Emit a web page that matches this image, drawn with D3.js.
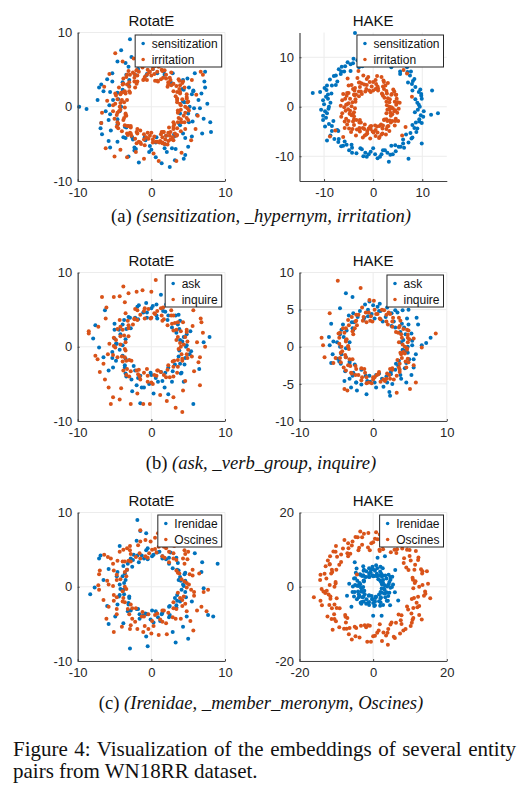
<!DOCTYPE html>
<html>
<head>
<meta charset="utf-8">
<script src="https://cdn.jsdelivr.net/npm/d3@7"></script>
<style>
body { margin: 0; background: #fff; }
</style>
</head>
<body>
<div id="chart"></div>
<script>
// tick values and axis ranges
const ticks10 = [-10, 0, 10];
const ticks5 = [-10, -5, 0, 5, 10];
const ticks20 = [-20, 0, 20];
const dom10 = [-10, 10];
const dom15 = [-15, 15];
const dom20 = [-20, 20];

const titles = ["RotatE", "HAKE"];
const captions = [
  ["(a) ", "(sensitization, _hypernym, irritation)"],
  ["(b) ", "(ask, _verb_group, inquire)"],
  ["(c) ", "(Irenidae, _member_meronym, Oscines)"]
];
const legendNames = [["sensitization", "irritation"], ["ask", "inquire"], ["Irenidae", "Oscines"]];

// (a) RotatE
const aRotatESensitization = [
  [5.2,0],[4.3,0.7],[5.7,2.1],[4.2,2.4],[4.3,3.6],[2.7,3.2],[3.2,5.6],[1.7,4.7],[0.8,4.5],[0,5.9],[-0.7,4.2],[-1.8,5.1],
  [-3.1,5.4],[-3.0,3.6],[-3.9,3.3],[-3.9,2.3],[-5.6,2.0],[-5.2,0.9],[-4.1,0],[-5.6,-1.0],[-4.6,-1.7],[-5.5,-3.2],[-3.4,-2.8],[-3.5,-4.2],
  [-2.5,-4.4],[-2.1,-5.7],[-0.8,-4.5],[0,-5.8],[0.7,-4.1],[1.8,-5.0],[3.3,-5.7],[3.1,-3.7],[4.3,-3.6],[3.7,-2.2],[5.6,-2.0],[5.0,-0.9],
  [4.5,0.6],[5.5,1.7],[4.4,2.3],[4.9,3.8],[2.9,3.1],[2.9,4.5],[1.8,4.3],[1.3,5.9],[0.2,5.1],[-0.6,4.4],[-1.8,5.6],[-2.2,4.3],
  [-3.4,4.3],[-3.0,2.8],[-5.3,3.4],[-4.6,1.9],[-4.5,1.0],[-5.7,0.2],[-4.3,-0.6],[-5.8,-1.8],[-4.6,-2.4],[-3.6,-2.7],[-3.8,-4.1],[-2.6,-4.1],
  [-2.3,-5.5],[-0.9,-4.1],[-0.2,-5.3],[0.6,-4.8],[1.8,-5.6],[2.0,-3.9],[3.1,-4.0],[4.6,-4.2],[3.9,-2.5],[5.1,-2.1],[3.9,-0.9],[5.8,-0.2],
  [-9.8,0.0],[-8.8,-0.3],[-7.1,2.6],[-6.8,3.0],[-6.5,2.1],[-7.3,0.9],[-6.2,-0.6],[-6.8,-2.2],[-6.9,-2.9],[-6.7,-3.7],[-5.8,-4.6],[-4.6,-4.7],
  [-5.6,-5.5],[-4.1,7.6],[-4.6,6.1],[-2.9,9.1],[-2.7,6.7],[-1.9,7.0],[-3.5,5.9],[-5.3,4.5],[-6.0,3.7],[5.9,4.5],[7.2,3.4],[7.3,2.6],
  [6.8,1.8],[6.4,0.9],[6.6,-0.2],[6.2,-1.1],[7.1,-1.6],[8.0,-2.1],[8.1,-3.4],[6.9,-3.6],[5.5,-4.0],[5.0,-5.4],[4.6,-6.5],[3.2,-7.2],
  [2.5,-8.1],[1.4,-7.6],[2.1,-6.1],[2.8,-5.6],[-1.7,-7.5],[-0.3,-6.1],[-3.1,-6.7],[5.7,2.2],[7.3,4.7],[5.1,2.6],[4.4,-7.0],[0.6,-6.8],
  [-2.3,-5.9],[7.6,0.4]
];
const aRotatEIrritation = [
  [4.6,0.0],[3.5,0.6],[4.8,1.7],[3.5,2.0],[3.4,2.8],[2.2,2.7],[2.7,4.6],[1.3,3.7],[0.8,4.7],[0.0,4.2],[-0.6,3.6],[-1.7,4.7],
  [-2.3,3.9],[-2.2,2.6],[-3.8,3.1],[-3.6,2.1],[-4.9,1.8],[-3.7,0.6],[-4.3,0.0],[-4.6,-0.8],[-3.4,-1.2],[-4.7,-2.7],[-3.1,-2.6],[-2.9,-3.5],
  [-2.0,-3.4],[-1.7,-4.7],[-0.7,-4.1],[0.0,-3.5],[0.8,-4.7],[1.5,-4.1],[2.6,-4.4],[2.4,-2.8],[3.5,-2.9],[3.6,-2.1],[5.0,-1.8],[3.7,-0.6],
  [3.9,0.4],[4.8,1.3],[3.9,1.8],[3.0,2.1],[3.7,3.7],[2.3,3.3],[2.0,4.3],[0.9,3.4],[0.4,4.4],[-0.5,5.0],[-1.0,3.7],[-1.9,4.2],
  [-2.3,3.4],[-3.8,3.8],[-3.0,2.1],[-4.1,1.9],[-3.3,0.9],[-4.9,0.4],[-4.2,-0.4],[-3.5,-0.9],[-4.6,-2.1],[-3.6,-2.5],[-2.8,-2.8],[-2.7,-3.9],
  [-1.5,-3.2],[-1.4,-5.0],[-0.4,-4.3],[0.4,-4.0],[1.2,-4.6],[1.6,-3.4],[2.9,-4.1],[3.0,-3.0],[3.0,-2.1],[4.5,-2.1],[4.4,-1.2],[4.0,-0.4],
  [4.2,1.0],[4.5,2.6],[3.0,3.1],[1.8,4.9],[-0.3,4.6],[-1.2,5.3],[-2.9,4.3],[-3.3,3.0],[-4.4,2.6],[-4.6,1.0],[-5.2,-0.6],[-3.8,-1.8],
  [-4.0,-3.3],[-2.2,-4.3],[-0.9,-5.2],[0.2,-4.8],[1.8,-5.0],[2.0,-3.9],[3.2,-3.6],[4.0,-3.3],[4.6,-0.8],[3.5,0.9],[4.9,0.6],[3.9,2.9],
  [2.6,3.6],[1.0,5.4],[-1.9,3.4],[-3.8,2.0],[-5.0,-1.6],[-3.2,-3.8],[-1.0,-3.7],[1.3,-3.7],[2.3,-4.6],[3.7,-1.5],[5.1,-0.5],[4.3,3.4],
  [2.5,-3.9],[1.9,-4.4],[3.0,-4.5],[2.2,-5.1],[3.4,-3.9],[1.5,-4.9],[-2.5,4.6],[-3.4,4.0],[-2.0,4.9],[-3.1,4.8],[0.5,5.5],[-0.8,5.6],
  [1.4,5.0],
  [4.0,0.2],[4.8,1.1],[3.3,1.4],[3.8,2.4],[3.8,3.5],[2.3,3.0],[2.0,3.8],[1.5,4.8],[0.5,3.5],[-0.2,4.7],[-0.9,4.0],[-2.0,4.9],
  [-2.0,3.1],[-3.0,3.3],[-3.9,3.0],[-3.5,1.8],[-4.8,1.5],[-4.2,0.5],[-3.6,-0.1],[-4.7,-1.1],[-3.7,-1.5],[-4.5,-2.9],[-2.8,-2.6],[-2.8,-3.6],
  [-1.9,-3.6],[-1.5,-4.8],[-0.5,-3.5],[0.2,-4.4],[1.1,-4.8],[1.4,-3.4],[2.3,-3.5],[3.5,-3.8],[3.1,-2.4],[4.1,-2.1],[4.8,-1.5],[3.6,-0.5],
  [5.0,0.7],[3.5,1.1],[3.9,2.0],[4.2,3.2],[2.7,2.9],[2.5,3.9],[1.6,3.9],[0.8,3.5],[0.2,5.1],[-0.6,4.3],[-1.1,3.6],[-2.3,4.4],
  [-3.3,4.3],[-3.0,2.7],[-2.9,1.9],[-4.2,1.7],[-4.0,0.9],[-5.2,0.2],[-4.4,-0.6],[-3.5,-1.1],[-4.5,-2.3],[-3.3,-2.6],[-3.3,-3.6],[-1.9,-3.0],
  [-2.0,-4.9],[-1.0,-4.4],[-0.2,-3.9],[0.6,-4.7],[1.5,-4.8],[1.7,-3.4],[2.6,-3.4],[3.0,-2.7],[4.6,-3.0],[4.0,-1.7],[3.6,-0.8],[4.9,-0.2],
  [-4.9,7.2],[-6.2,-5.6],[-5.0,-6.7],[-4.2,-5.8],[-3.3,-6.8],[-2.1,-6.1],[-1.0,-7.0],[0.3,-6.3],[1.0,-7.3],[3.4,-7.3],[4.1,-6.2],[5.4,-4.5],
  [6.0,-3.0],[6.3,-1.2],[6.1,1.6],[6.7,4.7],[7.0,4.3],[5.5,3.6],[-6.8,-2.2],[-6.0,0.8],[-6.4,2.7],[-5.7,4.4],[-3.9,6.1],[-2.4,6.5],
  [2.8,6.2],[4.6,5.6],[-6.7,-0.8]
];

// (a) HAKE
const aHakeSensitization = [
  [9.5,0],[8.6,1.5],[9.6,3.5],[7.9,4.6],[7.5,6.3],[5.5,6.6],[5.3,9.1],[3.2,8.7],[1.5,8.7],[0,10.0],[-1.6,9.4],[-2.9,8.0],
  [-5.2,9.0],[-5.9,7.1],[-7.6,6.3],[-7.6,4.4],[-9.5,3.4],[-9.2,1.6],[-9.0,0],[-10.2,-1.8],[-8.1,-2.9],[-8.4,-4.9],[-7.9,-6.5],[-5.8,-7.0],
  [-4.4,-7.7],[-3.4,-9.4],[-1.6,-9.3],[0,-8.4],[1.7,-9.6],[3.5,-9.7],[4.5,-7.8],[6.1,-7.4],[6.7,-5.6],[8.8,-5.1],[8.7,-3.2],[9.7,-1.7],
  [9.0,0.8],[9.8,2.6],[8.6,4.0],[7.1,4.9],[7.0,7.0],[5.9,8.5],[3.7,8.0],[2.5,9.3],[0.9,10.2],[-0.8,9.1],[-2.2,8.2],[-4.1,8.8],
  [-5.7,8.2],[-6.6,6.6],[-7.3,5.1],[-9.4,4.3],[-9.2,2.5],[-8.7,0.8],[-9.8,-0.9],[-10.2,-2.7],[-8.4,-3.9],[-7.1,-4.9],[-7.1,-7.1],[-5.4,-7.7],
  [-4.3,-9.3],[-2.3,-8.6],[-0.9,-9.6],[0.9,-10.4],[2.4,-8.8],[3.7,-7.9],[5.6,-8.1],[7.2,-7.2],[7.6,-5.3],[8.0,-3.7],[9.4,-2.5],[10.3,-0.9],
  [9.3,0.4],[9.8,2.2],[8.0,3.3],[8.1,5.2],[7.7,7.1],[5.5,7.1],[4.4,8.5],[3.1,9.7],[1.1,8.7],[-0.4,9.9],[-2.0,9.0],[-4.0,9.7],
  [-4.6,7.2],[-6.5,7.1],[-8.0,6.2],[-8.4,4.3],[-8.5,2.7],[-10.2,1.3],[-9.1,-0.4],[-9.6,-2.2],[-9.8,-4.0],[-7.3,-4.7],[-7.0,-6.5],[-6.1,-7.9],
  [-4.3,-8.3],[-2.6,-8.4],[-1.3,-10.1],[0.4,-9.6],[2.0,-8.8],[4.0,-9.6],[5.2,-8.1],[6.1,-6.6],[8.0,-6.2],[8.4,-4.3],[9.4,-3.0],[8.5,-1.1],
  [-9.6,2.0],[-10.0,0.5],[-9.4,-1.3],[-9.0,-3.5],[-8.8,5.5],[-7.0,7.6],[-4.6,8.6],[-3.2,9.4],[-6.4,8.1],[-10.6,-0.6],[-8.7,-5.8],[-6.5,-8.0],
  [-4.9,-8.8],[-2.0,-10.0],[-0.5,-9.1],[1.4,-10.1],[2.9,-9.3],[4.6,-9.0],[6.3,-8.3],[7.8,-6.4],[9.0,-4.4],[9.9,-3.3],[10.2,-2.0],[9.1,-0.6],
  [9.9,1.6],[9.3,3.0],[8.4,5.6],[6.9,8.0],[2.0,10.0],[-10.8,3.0],[-9.9,3.8],
  [-3.7,14.9],[-12.3,2.8],[12.0,3.3],[13.2,-1.3],[11.8,-1.6],[7.2,-10.5],[3.2,-11.1],[9.9,-7.4],[-9.4,-6.8]
];
const aHakeIrritation = [
  [4.0,-0.3],[2.8,0.3],[4.8,1.6],[3.0,1.7],[4.1,3.5],[1.9,2.5],[2.0,4.1],[1.0,3.7],[0.5,5.4],[-0.5,3.0],[-1.3,4.4],[-2.3,4.7],
  [-2.5,3.1],[-4.4,4.4],[-3.9,2.5],[-3.6,1.5],[-5.7,1.6],[-5.3,0.5],[-3.7,-0.3],[-6.3,-1.3],[-4.4,-1.7],[-5.0,-2.9],[-3.4,-2.7],[-4.5,-5.1],
  [-2.8,-4.3],[-1.7,-3.6],[-1.4,-5.6],[-0.5,-4.5],[0.5,-5.9],[0.8,-4.0],[1.9,-4.4],[3.3,-4.9],[2.3,-2.6],[3.9,-2.9],[3.6,-1.8],[4.9,-1.2],
  [3.3,0.0],[4.4,1.0],[3.4,1.5],[4.3,3.1],[2.0,2.2],[2.2,3.6],[2.1,5.3],[0.5,3.6],[0.0,5.0],[-0.8,3.3],[-1.8,4.5],[-2.9,4.9],
  [-2.9,3.1],[-2.9,2.1],[-5.0,2.8],[-4.7,1.6],[-6.3,1.3],[-4.4,0.1],[-5.6,-0.8],[-4.8,-1.4],[-3.9,-1.9],[-5.3,-3.6],[-3.9,-3.7],[-2.5,-3.2],
  [-2.7,-5.0],[-2.1,-6.2],[-0.9,-4.4],[-0.1,-5.0],[0.4,-3.8],[1.9,-5.4],[2.0,-3.8],[3.1,-3.9],[2.7,-2.5],[5.1,-2.9],[3.9,-1.5],[2.9,-0.6],
  [4.7,0.4],[3.3,0.9],[4.7,2.4],[2.3,1.8],[2.7,3.2],[2.5,4.3],[1.0,3.3],[0.6,4.6],[-0.3,4.1],[-1.3,5.6],[-1.6,3.1],[-2.7,4.0],
  [-3.7,3.8],[-3.5,2.5],[-5.3,2.8],[-3.6,1.0],[-5.0,0.7],[-5.9,-0.1],[-4.7,-0.8],[-4.1,-1.4],[-5.8,-3.0],[-4.1,-3.0],[-2.7,-2.7],[-3.3,-4.6],
  [-2.1,-4.3],[-1.7,-5.8],[-0.6,-4.0],[0.1,-5.2],[1.3,-6.1],[1.3,-3.9],[2.7,-4.5],[2.2,-2.7],[3.4,-2.8],[4.6,-2.4],[3.5,-1.2],[3.4,-0.5],
  [3.7,-0.1],[5.0,0.9],[2.7,1.0],[3.7,2.4],[2.8,2.7],[1.8,2.7],[2.2,5.0],[0.9,4.1],[0.0,3.3],[-0.7,5.0],[-1.4,3.6],[-2.7,4.9],
  [-2.3,2.6],[-3.8,3.3],[-3.8,2.3],[-5.4,2.2],[-4.2,0.9],[-5.5,0.4],[-5.1,-0.5],[-3.9,-1.1],[-5.5,-2.4],[-3.9,-2.5],[-4.9,-4.4],[-2.8,-3.2],
  [-2.8,-4.7],[-1.8,-4.5],[-1.2,-5.4],[-0.4,-3.9],[0.5,-4.7],[1.7,-5.6],[1.6,-3.6],[2.9,-4.0],[2.9,-2.9],[4.5,-2.9],[2.7,-1.3],[4.3,-0.9],
  [-1.0,6.0],[0.8,6.2],[-3.2,5.8],[1.7,6.0],[3.0,4.8],[4.6,2.4],[5.4,0.8],[5.2,-0.4],[4.4,-3.8],[2.6,-5.6],[1.2,-6.3],[-0.6,-6.4],
  [-3.5,-5.8],[-5.8,-4.3],[-6.5,-2.0],[-6.6,0.2],[-6.1,2.6],[-5.0,4.3],[-2.0,6.3],[-4.1,3.6],[-4.2,-4.5],[-1.2,-4.9],[0.9,-5.2],[3.6,-3.2],
  [4.5,-0.7],[3.8,2.6],[6.2,7.4],[6.9,6.7],[7.9,2.0],[-6.1,-6.1],[6.6,-4.1],[5.9,-5.8],[-5.2,5.7],[-3.0,7.2],[-7.7,-4.8],[-8.8,-6.0]
];

// (b) RotatE
const bRotatEAsk = [
  [4.8,0.2],[3.9,0.9],[5.3,2.1],[3.8,2.4],[2.8,2.6],[3.3,4.2],[2.3,4.2],[2.0,5.7],[0.7,4.2],[0,5.2],[-0.6,3.9],[-1.9,5.4],
  [-2.2,3.9],[-3.1,4.0],[-2.8,2.5],[-5.0,3.1],[-4.2,1.7],[-5.0,1.1],[-3.9,0.2],[-5.3,-0.7],[-3.9,-1.2],[-5.2,-2.8],[-3.6,-2.8],[-2.4,-2.6],
  [-2.7,-4.4],[-1.5,-3.9],[-1.0,-5.5],[0,-3.8],[0.9,-4.7],[1.3,-3.4],[2.8,-4.7],[2.9,-3.3],[3.2,-2.4],[4.5,-2.4],[4.6,-1.5],[3.8,-0.5],
  [4.2,0.7],[4.8,1.7],[3.4,1.9],[3.6,3.0],[3.7,4.3],[2.2,3.6],[1.9,4.7],[0.8,3.8],[0.2,5.5],[-0.6,4.6],[-1.7,5.6],[-1.8,3.7],
  [-2.9,3.9],[-3.7,3.6],[-3.4,2.4],[-5.0,2.3],[-3.5,1.0],[-4.8,0.4],[-4.3,-0.4],[-5.3,-1.5],[-3.5,-1.6],[-3.6,-2.5],[-3.5,-3.6],[-2.2,-3.2],
  [-1.8,-4.2],[-1.3,-5.5],[-0.1,-3.5],[0.6,-4.2],[1.5,-4.6],[1.9,-3.5],[2.3,-2.8],[4.1,-3.5],[3.9,-2.3],[3.7,-1.3],[5.2,-1.0],[4.7,0.0],
  [-3.9,3.0],[-4.4,2.3],[-1.1,4.6],[1.6,4.8],[3.9,3.5],[4.4,1.3],[4.0,-3.6],[1.8,-5.5],[-0.3,-5.0],[-2.0,-5.2],[-3.4,-4.0],[-4.8,-1.9],
  [-4.7,0.4],[2.3,-6.4],[0.3,-6.3],[-2.6,-6.0],[4.4,-4.7],[5.4,-0.6],
  [-7.9,1.1],[-7.6,2.9],[-7.1,-0.1],[-6.5,-1.4],[-6.3,4.9],[-1.5,-7.6],[5.7,-7.7],[7.9,1.3],[6.5,-3.0],[7.1,0.6],[1.3,7.0],[2.3,7.4],
  [-0.7,5.9],[0.7,5.7],[-5.8,-3.2]
];
const bRotatEInquire = [
  [4.4,0.3],[3.4,0.9],[4.8,2.0],[3.4,2.3],[3.6,3.3],[2.2,2.9],[2.7,4.9],[1.4,4.2],[0.8,4.8],[0,3.9],[-0.9,5.2],[-1.5,4.3],
  [-1.9,3.6],[-3.5,4.5],[-3.1,2.9],[-4.2,2.7],[-3.1,1.4],[-5.1,1.2],[-4.2,0.3],[-3.6,-0.3],[-4.6,-1.4],[-3.9,-2.0],[-2.7,-1.9],[-3.4,-3.8],
  [-2.0,-3.2],[-1.6,-4.0],[-0.6,-3.0],[0,-4.8],[0.7,-3.9],[1.3,-3.4],[2.5,-4.1],[2.3,-2.5],[3.6,-2.7],[3.6,-1.8],[4.9,-1.5],[3.7,-0.3],
  [4.9,0.7],[3.6,1.3],[4.0,2.1],[4.3,3.3],[2.8,3.1],[2.7,4.2],[1.5,3.5],[1.3,5.2],[0.4,4.5],[-0.4,5.1],[-0.9,3.8],[-2.2,5.1],
  [-2.3,3.7],[-3.2,3.5],[-3.1,2.5],[-4.6,2.4],[-4.2,1.4],[-3.5,0.6],[-4.9,-0.1],[-5.2,-1.1],[-3.6,-1.4],[-3.0,-1.8],[-3.3,-3.0],[-3.0,-4.0],
  [-1.8,-3.7],[-1.0,-3.5],[-0.5,-4.7],[0.4,-3.8],[0.9,-3.2],[2.0,-4.1],[3.0,-4.0],[3.0,-2.7],[3.1,-1.9],[4.2,-1.6],[4.8,-1.0],[4.0,0.0],
  [3.9,0.5],[4.6,1.3],[4.8,2.3],[3.0,2.2],[3.2,3.2],[3.0,4.2],[1.7,3.7],[1.6,5.3],[0.5,4.4],[-0.1,3.8],[-1.0,4.8],[-1.9,4.9],
  [-2.3,3.8],[-2.5,3.0],[-4.3,3.6],[-3.9,2.3],[-3.7,1.5],[-4.8,0.9],[-5.1,0.1],[-3.5,-0.5],[-4.0,-1.3],[-3.4,-1.9],[-3.8,-3.2],[-2.8,-3.3],
  [-1.7,-3.1],[-1.5,-4.4],[-0.5,-3.9],[0.2,-5.0],[0.8,-3.2],[1.7,-3.8],[2.2,-3.1],[3.5,-3.5],[2.9,-2.0],[4.2,-1.9],[4.1,-1.0],[5.0,-0.4],
  [-6.7,6.7],[-5.1,6.7],[-4.3,6.8],[-3.8,8.1],[-3.1,7.2],[-2.0,7.4],[-1.2,7.6],[0.0,7.4],[0.6,9.0],[2.3,9.0],[3.0,7.2],[5.7,4.9],
  [6.7,3.8],[6.8,3.3],[7.0,1.9],[6.2,0.6],[7.3,0.0],[6.6,-1.4],[6.4,-2.1],[6.6,-5.2],[4.6,-4.6],[4.3,-5.9],[3.0,-6.8],[3.3,-8.2],
  [4.2,-8.8],[2.1,-7.3],[-0.2,-7.7],[-1.1,-7.7],[-2.8,-7.7],[-4.3,-7.1],[-5.5,-7.7],[-5.2,-6.8],[-5.8,-5.5],[-7.0,-3.4],[-6.5,-2.3],[-7.3,-1.7],
  [-7.6,-1.2],[-8.5,1.8],[-8.5,2.1],[-7.2,2.7],[-6.2,3.8],[-6.1,5.3],[-5.7,0.4],[-5.9,-1.0],[5.8,-3.3],[5.6,2.8],[-1.9,-6.3],[1.2,-6.5],
  [-3.6,6.0],[-6.3,-4.4],[4.8,5.8],[5.5,-1.3],[-4.1,-5.6]
];

// (b) HAKE
const bHakeAsk = [
  [4.7,0],[3.8,0.6],[5.2,1.8],[3.7,2.0],[3.9,3.1],[2.5,2.8],[3.0,4.9],[1.7,4.0],[1.0,4.8],[0.2,3.8],[-0.7,5.0],[-1.2,3.9],
  [-2.1,4.0],[-3.3,4.2],[-2.8,2.5],[-3.6,2.2],[-4.5,1.7],[-3.2,0.6],[-4.5,0],[-5.5,-1.0],[-3.7,-1.4],[-3.2,-2.0],[-3.8,-3.3],[-2.7,-3.5],
  [-1.6,-3.1],[-1.6,-5.1],[-0.5,-3.9],[0.2,-4.8],[0.8,-3.6],[1.9,-4.8],[2.4,-3.7],[3.8,-4.3],[3.4,-2.6],[3.5,-1.9],[4.9,-1.7],[4.7,-0.8],
  [5.3,0.2],[4.1,0.9],[4.4,1.7],[4.8,3.0],[3.0,2.6],[2.8,3.4],[2.5,4.5],[1.3,3.4],[0.8,4.8],[0.0,5.6],[-0.7,4.1],[-1.3,3.6],
  [-2.7,4.5],[-2.9,3.3],[-2.7,2.3],[-4.3,2.3],[-4.0,1.3],[-5.4,0.7],[-3.7,-0.2],[-4.3,-1.0],[-4.6,-2.0],[-3.2,-2.2],[-2.5,-2.4],[-2.8,-3.9],
  [-2.3,-4.8],[-1.0,-3.9],[-0.4,-4.7],[0.4,-3.8],[1.4,-5.4],[1.8,-4.0],[2.4,-3.4],[3.7,-3.8],[3.1,-2.3],[4.5,-2.2],[5.5,-1.7],[4.4,-0.5],
  [4.2,2.6],[2.2,4.5],[-0.2,4.4],[-2.6,3.3],[-4.1,3.0],[-4.9,0.6],[-4.4,-2.3],[-3.2,-4.3],[-0.8,-4.6],[1.2,-4.3],[3.0,-3.1],[4.3,-2.9],
  [5.3,0.8],[4.0,-0.4],[-1.8,4.8],[2.6,-5.0],[-2.3,-4.8],[0.6,5.4],[-4.8,-1.6],[4.6,3.8],
  [-3.7,7.2],[-2.8,6.7],[-4.5,5.2],[-5.7,3.1],[-6.0,1.3],[-5.9,0.2],[-5.7,-2.2],[-3.9,-4.6],[-3.0,-5.5],[-2.2,-5.9],[-0.9,-6.4],[0.4,-5.5],
  [2.3,-6.6],[2.2,-6.1],[4.5,-4.8],[5.2,-3.8],[5.5,-2.8],[5.8,-1.0],[6.6,0.2],[7.2,0.5],[7.8,1.2],[5.9,3.9],[6.1,3.0],[4.8,5.0],
  [4.0,4.9],[3.3,4.6],[1.9,5.3],[0.9,5.8],[-0.5,6.1],[-1.1,5.7]
];
const bHakeInquire = [
  [4.3,0],[3.5,0.6],[4.7,1.6],[3.4,1.9],[3.6,2.8],[3.5,3.9],[2.0,3.0],[1.8,4.3],[0.9,3.8],[0.2,5.0],[-0.4,3.5],[-1.3,4.0],
  [-2.3,4.3],[-2.2,2.9],[-3.3,2.9],[-2.7,1.7],[-4.7,1.8],[-3.7,0.7],[-3.4,0],[-4.4,-0.8],[-3.7,-1.4],[-2.8,-1.7],[-3.7,-3.2],[-2.3,-3.0],
  [-2.0,-3.8],[-1.1,-3.5],[-0.6,-4.8],[0.2,-4.1],[0.8,-3.4],[1.8,-4.3],[2.8,-4.4],[2.6,-2.9],[3.5,-2.8],[3.3,-1.8],[4.7,-1.6],[4.1,-0.7],
  [4.0,0.3],[4.7,1.2],[3.8,1.7],[3.1,2.0],[3.7,3.5],[2.6,3.4],[1.8,3.4],[1.5,4.9],[0.6,4.4],[-0.1,3.4],[-1.0,4.6],[-1.4,3.5],
  [-2.3,3.5],[-3.4,3.6],[-2.8,2.1],[-3.9,1.9],[-3.6,1.0],[-4.6,0.4],[-3.3,-0.3],[-3.8,-1.1],[-4.4,-2.1],[-3.4,-2.5],[-2.4,-2.6],[-2.4,-3.8],
  [-1.2,-3.0],[-0.9,-4.1],[-0.2,-4.9],[0.5,-3.8],[1.4,-4.4],[1.9,-3.6],[2.3,-3.0],[3.6,-3.4],[3.6,-2.3],[4.8,-2.1],[3.8,-1.0],[4.6,-0.4],
  [4.7,0.6],[3.9,1.2],[4.6,2.3],[3.5,2.6],[2.6,2.7],[2.7,3.9],[2.1,4.6],[1.0,3.7],[0.4,4.4],[-0.3,4.1],[-0.9,3.3],[-2.0,4.3],
  [-2.4,3.4],[-2.5,2.5],[-3.7,2.5],[-4.5,1.9],[-3.7,0.9],[-3.4,0.1],[-4.2,-0.6],[-4.5,-1.5],[-3.2,-1.7],[-3.1,-2.6],[-3.0,-3.5],[-1.6,-2.9],
  [-1.5,-4.1],[-0.9,-4.9],[0.0,-4.1],[0.7,-3.7],[1.6,-4.6],[2.2,-3.8],[2.6,-3.1],[3.6,-3.1],[4.5,-2.8],[3.9,-1.5],[3.7,-0.8],[4.6,-0.2],
  [-4.1,2.5],[-4.3,0.0],[-4.0,-2.8],[-1.6,-4.5],[1.0,-4.7],[3.2,-3.9],[4.3,-0.9],[4.1,2.4],[2.3,4.4],[-0.6,4.6],[-2.9,4.0],[-4.6,1.2],
  [-2.9,-3.6],[0.0,-4.4],[2.3,-4.3],[4.4,-2.0],[-1.5,5.3],[1.2,5.0],[-5.1,-1.5],[4.9,1.0],
  [-4.8,8.9],[-1.7,7.9],[-0.5,6.3],[-5.9,4.5],[-7.0,1.2],[-6.8,0.2],[-6.6,-1.4],[-5.4,-2.2],[-3.9,-5.7],[-3.5,-5.9],[3.2,-6.2],[5.0,-5.7],
  [5.8,-4.8],[5.5,-2.5],[6.6,-0.1],[8.5,1.8],[5.5,1.1],[4.8,2.2],[2.3,5.8],[0.1,6.2]
];

// (c) RotatE
const cRotatEIrenidae = [
  [4.3,0.3],[3.7,0.9],[4.6,1.9],[3.5,2.3],[3.6,3.2],[2.4,3.1],[2.6,4.6],[1.5,4.1],[0.8,4.6],[0.1,4.1],[-0.7,4.9],[-1.3,4.2],
  [-1.7,3.3],[-2.8,3.8],[-3.2,3.1],[-3.3,2.3],[-4.6,2.0],[-3.5,0.9],[-4.3,0.3],[-3.8,-0.4],[-4.4,-1.3],[-3.0,-1.5],[-3.1,-2.4],[-2.8,-3.2],
  [-1.8,-3.0],[-1.6,-4.3],[-0.6,-3.7],[0.1,-3.2],[0.9,-4.1],[1.5,-3.5],[2.5,-3.8],[2.5,-2.6],[3.4,-2.5],[3.2,-1.5],[4.7,-1.4],[4.1,-0.4],
  [4.0,0.8],[4.5,1.7],[3.7,2.2],[2.9,2.5],[3.4,3.9],[2.4,3.9],[1.5,3.8],[1.1,4.7],[0.3,4.3],[-0.5,5.2],[-1.0,3.8],[-1.9,4.2],
  [-2.5,3.6],[-2.6,2.7],[-3.8,2.8],[-3.6,1.8],[-4.7,1.4],[-3.7,0.5],[-4.2,-0.3],[-4.3,-1.1],[-3.0,-1.3],[-3.1,-2.2],[-3.2,-3.3],[-2.0,-3.0],
  [-1.6,-3.7],[-0.8,-3.6],[-0.1,-4.4],[0.6,-3.3],[1.4,-3.7],[2.4,-4.1],[2.4,-2.7],[3.4,-2.8],[3.5,-1.9],[3.5,-1.1],[4.6,-0.7],[4.4,0.1],
  [3.9,1.3],[2.0,3.7],[-0.5,3.7],[-3.9,1.4],[-3.7,-1.0],[-1.1,-3.9],[1.2,-4.6],[3.9,-2.0],[4.6,0.8],[-2.4,4.3],[0.3,-4.8],[-4.6,-2.4],
  [-8.3,-1.0],[-7.7,-0.1],[-7.1,3.8],[-6.9,4.2],[-4.3,5.5],[-1.9,9.0],[-1.5,7.5],[-0.7,7.2],[-2.0,6.2],[1.6,7.0],[5.9,4.5],[6.9,3.3],
  [9.0,3.1],[6.8,2.0],[7.1,-0.2],[7.7,-3.8],[8.4,-4.0],[4.8,-4.0],[4.3,-5.4],[5.0,-7.0],[3.3,-7.5],[2.9,-6.1],[-0.5,-8.0],[-0.7,-6.7],
  [-2.9,-8.3],[-3.8,-4.9],[-5.8,-5.0],[-4.9,-4.0],[-6.5,0.9],[-5.8,2.4],[-6.0,-2.6],[5.5,-2.0]
];
const cRotatEOscines = [
  [5.1,0.3],[4.1,1.0],[5.6,2.3],[3.4,2.2],[4.3,3.8],[3.0,3.8],[3.1,5.5],[1.5,4.1],[1.0,5.4],[0.1,5.0],[-0.5,3.9],[-1.8,5.6],
  [-2.1,4.0],[-3.8,5.0],[-3.6,3.4],[-3.3,2.3],[-5.1,2.2],[-4.2,1.0],[-5.8,0.3],[-3.4,-0.3],[-4.7,-1.4],[-3.9,-2.0],[-4.7,-3.7],[-2.6,-2.9],
  [-2.6,-4.3],[-1.2,-3.4],[-0.9,-5.3],[0.1,-4.6],[0.8,-3.6],[2.0,-4.9],[2.3,-3.5],[4.0,-4.3],[3.0,-2.1],[4.6,-2.3],[4.4,-1.3],[5.8,-0.7],
  [4.5,0.7],[5.2,1.7],[3.6,1.9],[4.9,3.7],[3.4,3.6],[3.0,4.5],[1.8,3.9],[1.6,5.7],[0.5,5.1],[-0.3,4.5],[-1.5,6.1],[-1.5,3.8],
  [-2.8,4.4],[-3.1,3.5],[-4.6,3.5],[-3.6,2.0],[-4.7,1.6],[-6.0,0.8],[-3.6,0.0],[-5.1,-1.1],[-3.8,-1.5],[-4.7,-3.0],[-3.2,-3.0],[-2.1,-2.9],
  [-2.2,-4.7],[-1.0,-4.0],[-0.4,-5.7],[0.5,-3.8],[1.5,-4.7],[1.7,-3.2],[3.3,-4.3],[3.4,-3.0],[4.2,-2.6],[3.9,-1.5],[5.8,-1.2],[4.8,-0.1],
  [4.8,0.5],[5.6,1.5],[3.8,1.8],[4.5,3.1],[4.6,4.4],[2.4,3.3],[2.4,4.7],[1.7,5.4],[0.7,4.6],[-0.1,6.1],[-0.8,4.1],[-1.6,4.5],
  [-2.9,4.9],[-2.8,3.4],[-3.9,3.4],[-5.2,3.1],[-3.4,1.4],[-4.7,0.9],[-5.2,0.1],[-3.9,-0.6],[-5.1,-1.9],[-3.6,-2.1],[-2.8,-2.4],[-3.0,-3.7],
  [-2.8,-5.2],[-1.3,-4.0],[-0.4,-3.7],[0.3,-5.3],[1.2,-4.4],[1.5,-3.2],[2.9,-4.1],[3.0,-2.9],[4.8,-3.3],[4.2,-1.8],[3.6,-0.8],[5.4,-0.4],
  [-5.5,3.8],[-5.9,4.0],[-6.4,4.3],[-7.0,2.2],[-7.1,1.7],[-7.2,0.2],[-7.1,-0.4],[-6.5,-1.8],[-5.8,-2.7],[-5.1,-6.1],[-4.0,-5.4],[-2.9,-5.7],
  [-1.9,-5.7],[-1.1,-6.1],[0.0,-6.3],[1.0,-6.5],[2.1,-6.4],[5.7,-5.9],[6.2,-3.2],[6.8,-2.7],[7.5,-3.3],[7.1,-0.7],[7.7,-0.4],[6.5,1.8],
  [5.0,4.7],[4.5,4.9],[2.0,5.2],[-1.5,7.6],[-4.3,4.7],[-3.3,5.2],[-2.9,5.5],[0.9,7.2],[-0.8,6.3],[0.5,6.6],[5.3,-4.6],[-6.1,-4.3]
];

// (c) HAKE
const cHakeIrenidae = [
  [3.8,0.1],[2.4,0.6],[4.7,1.9],[2.7,1.8],[3.3,3.0],[1.4,2.0],[2.6,5.0],[1.0,3.5],[0.5,4.3],[-0.2,3.1],[-1.1,5.0],[-1.2,2.7],
  [-2.6,4.3],[-2.7,3.1],[-4.7,3.8],[-2.5,1.4],[-4.3,1.6],[-3.5,0.7],[-5.5,0.1],[-3.2,-0.4],[-4.1,-1.3],[-2.7,-1.4],[-4.4,-3.4],[-2.6,-2.7],
  [-2.6,-4.0],[-1.1,-2.3],[-1.1,-4.9],[-0.2,-3.4],[0.5,-4.0],[0.8,-2.7],[2.7,-4.9],[1.6,-2.1],[3.3,-2.8],[3.1,-1.8],[4.4,-1.6],[2.9,-0.4],
  [3.2,0.4],[4.4,1.3],[2.2,1.2],[4.2,3.2],[2.4,2.7],[2.2,3.5],[1.1,2.8],[1.1,5.0],[0.0,2.8],[-0.6,4.6],[-1.1,3.5],[-2.7,5.5],
  [-2.0,2.6],[-3.0,2.9],[-2.5,1.7],[-4.9,2.3],[-3.7,1.0],[-4.9,0.5],[-2.7,-0.1],[-5.6,-1.4],[-3.2,-1.3],[-3.7,-2.4],[-2.3,-2.0],[-3.1,-4.1],
  [-1.8,-3.4],[-1.4,-4.4],[-0.4,-2.5],[0.3,-5.2],[0.6,-3.0],[1.6,-3.9],[2.0,-3.1],[3.7,-3.8],[2.0,-1.4],[3.5,-1.6],[3.1,-0.8],[4.7,-0.3],
  [4.2,0.7],[2.7,1.0],[4.7,2.6],[1.9,1.7],[2.5,3.1],[1.7,3.0],[2.0,5.4],[0.4,2.9],[0.0,4.7],[-0.7,3.9],[-1.0,2.6],[-2.5,4.6],
  [-2.2,2.7],[-3.5,3.2],[-2.6,1.6],[-5.2,2.2],[-3.7,0.9],[-4.4,0.3],[-3.2,-0.3],[-5.0,-1.4],[-2.4,-1.1],[-3.9,-2.8],[-2.9,-2.8],[-3.2,-4.6],
  [-1.2,-2.4],[-1.1,-4.1],[-0.3,-3.3],[0.5,-5.0],[0.7,-2.7],[2.0,-4.2],[2.1,-2.8],[4.0,-3.8],[2.4,-1.6],[3.6,-1.5],[2.3,-0.5],[5.1,-0.1],
  [3.6,2.2],[1.9,4.1],[-0.2,5.4],[-1.8,4.2],[-3.6,3.4],[-4.0,0.2],[-3.9,-2.0],[-1.9,-4.6],[0.0,-4.4],[1.9,-5.1],[4.1,-2.5],[5.4,0.6],
  [5.2,2.7],[-5.2,-2.6],[-3.4,-4.3],[0.8,5.8],[-5.0,6.6],[1.2,7.8],[3.2,8.2],[0,-7.8],[2.3,-7.8],[5.9,-1.5],[6.8,-3.7],[-5.9,-5.4],
  [-7.1,-2.4],[-6.5,0.8],[6.0,4.5],[-4.5,4.9],[4.6,-5.0]
];
const cHakeOscines = [
  [12.5,0],[10.8,1.9],[13.0,4.7],[9.0,5.2],[9.9,8.3],[9.3,11.1],[5.8,10.0],[4.5,12.4],[1.7,10.0],[0,12.0],[-2.5,14.3],[-3.8,10.5],
  [-6.8,11.7],[-6.8,8.2],[-9.8,8.1],[-12.3,7.1],[-11.1,4.0],[-12.7,2.2],[-10.5,0],[-12.1,-2.1],[-13.9,-5.0],[-9.9,-5.7],[-10.5,-8.7],[-7.0,-8.4],
  [-6.4,-11.1],[-4.8,-13.3],[-1.9,-10.9],[0,-13.3],[1.8,-10.1],[4.1,-11.4],[7.3,-12.6],[7.5,-9.0],[10.7,-8.9],[9.2,-5.3],[11.8,-4.3],[13.8,-2.4],
  [11.3,1.0],[13.3,3.6],[9.6,4.5],[10.2,7.1],[9.9,9.9],[6.3,9.1],[5.5,11.9],[2.7,10.1],[1.2,12.8],[-1.3,14.5],[-3.0,11.3],[-5.6,12.2],
  [-6.2,8.9],[-8.7,8.7],[-11.7,8.2],[-10.0,4.6],[-13.2,3.5],[-10.2,0.9],[-12.6,-1.1],[-14.3,-3.8],[-10.5,-4.8],[-10.6,-7.4],[-7.6,-7.6],[-7.9,-11.3],
  [-5.0,-10.8],[-3.7,-13.7],[-0.9,-10.5],[1.1,-12.4],[3.5,-13.1],[4.7,-10.2],[8.2,-11.8],[7.7,-7.7],[10.4,-7.2],[12.0,-5.5],[11.1,-3.0],[14.1,-1.3],
  [13.4,0.5],[10.7,2.4],[11.2,4.6],[12.3,7.9],[8.4,7.7],[7.9,10.3],[4.8,9.3],[3.8,12.1],[1.8,14.1],[-0.5,11.7],[-3.0,13.3],[-4.0,9.8],
  [-6.7,10.4],[-10.1,11.0],[-8.7,6.7],[-11.8,6.1],[-11.4,3.6],[-10.2,1.3],[-14.0,-0.6],[-11.6,-2.6],[-11.9,-4.9],[-9.1,-5.8],[-10.1,-9.3],[-7.4,-9.6],
  [-6.6,-12.8],[-3.3,-10.5],[-1.4,-10.4],[0.5,-13.2],[2.8,-12.3],[5.6,-13.5],[6.2,-9.7],[6.9,-7.5],[10.9,-8.4],[10.9,-5.7],[10.5,-3.3],[14.2,-1.9],
  [11.5,1.5],[13.4,4.2],[11.4,5.9],[8.3,6.4],[9.2,10.0],[6.5,10.1],[5.5,13.3],[2.5,11.0],[0.5,12.9],[-1.4,10.6],[-4.2,13.3],[-5.8,11.1],
  [-7.0,9.0],[-10.2,9.4],[-9.2,5.9],[-11.2,4.6],[-14.3,3.2],[-11.8,0.5],[-13.0,-1.7],[-9.9,-3.1],[-11.2,-5.8],[-11.3,-8.7],[-7.5,-8.1],[-7.2,-11.3],
  [-4.6,-11.1],[-2.3,-10.4],[-0.6,-14.8],[1.5,-11.8],[3.9,-12.4],[5.0,-9.6],[7.7,-10.0],[10.5,-9.7],[9.5,-6.1],[12.5,-5.2],[12.2,-2.7],[10.9,-0.4],
  [-11.8,6.0],[-12.9,5.5],[-10.8,9.5],[-8.2,10.3],[-4.8,13.4],[-3.5,14.9],[0.8,14.7],[2.8,13.6],[7.6,12.3],[11.6,9.6],[12.2,7.2],[14.6,4.2],
  [14.9,0.8],[12.5,-7.6],[10.2,-10.6],[5.9,-13.8],[2.4,-14.6],[-1.6,-14.8],[-5.8,-14.2],[-9.2,-10.9],[-12.4,-8.0],[-13.5,-1.3],[-11.6,-3.2],[-16.1,-2.8],
  [15.5,-3.1],[4.0,-15.6],[-11.0,-11.6],[-14.4,1.8],[8.8,-11.4],[13.2,-8.8],[-7.8,12.6],[-4.4,3.3],[1.8,9.6],[-0.9,9.8]
];

const BLUE = "#0072BD";
const RED = "#D95319";
const SANS = "'Liberation Sans', Arial, Helvetica, sans-serif";
const SERIF = "'Liberation Serif', 'Times New Roman', serif";

const svg = d3.select("#chart").append("svg")
  .attr("width", 522).attr("height", 797)
  .style("display", "block");

const W = 147.3, H = 148.5;
const colLeft = [77.7, 299.5];
const rowTop = [32.5, 272.5, 512.5];

const panels = [
  { row: 0, col: 0, xd: dom10, yd: dom10, xt: ticks10, yt: ticks10, series: [aRotatESensitization, aRotatEIrritation] },
  { row: 0, col: 1, xd: dom15, yd: dom15, xt: ticks10, yt: ticks10, series: [aHakeSensitization, aHakeIrritation] },
  { row: 1, col: 0, xd: dom10, yd: dom10, xt: ticks10, yt: ticks10, series: [bRotatEAsk, bRotatEInquire] },
  { row: 1, col: 1, xd: dom10, yd: dom10, xt: ticks10, yt: ticks5, series: [bHakeAsk, bHakeInquire] },
  { row: 2, col: 0, xd: dom10, yd: dom10, xt: ticks10, yt: ticks10, series: [cRotatEIrenidae, cRotatEOscines] },
  { row: 2, col: 1, xd: dom20, yd: dom20, xt: ticks20, yt: ticks20, series: [cHakeIrenidae, cHakeOscines] }
];

const fmt = d => String(d);

panels.forEach(p => {
  const left = colLeft[p.col], top = rowTop[p.row];
  const x = d3.scaleLinear().domain(p.xd).range([left, left + W]);
  const y = d3.scaleLinear().domain(p.yd).range([top + H, top]);
  const g = svg.append("g");

  // grid
  g.append("g").selectAll("line").data(p.xt).join("line")
    .attr("x1", d => x(d)).attr("x2", d => x(d))
    .attr("y1", top).attr("y2", top + H)
    .attr("stroke", "#ececec").attr("stroke-width", 1);
  g.append("g").selectAll("line").data(p.yt).join("line")
    .attr("x1", left).attr("x2", left + W)
    .attr("y1", d => y(d)).attr("y2", d => y(d))
    .attr("stroke", "#ececec").attr("stroke-width", 1);

  // points, second series on top
  const colors = [BLUE, RED];
  p.series.forEach((s, i) => {
    g.append("g").selectAll("circle").data(s).join("circle")
      .attr("cx", d => x(d[0])).attr("cy", d => y(d[1]))
      .attr("r", 2).attr("fill", colors[i]);
  });

  // axes
  const ax = g.append("g").attr("transform", `translate(0,${top + H})`)
    .call(d3.axisBottom(x).tickValues(p.xt).tickFormat(fmt).tickSizeInner(-2).tickSizeOuter(0).tickPadding(7));
  const ay = g.append("g").attr("transform", `translate(${left},0)`)
    .call(d3.axisLeft(y).tickValues(p.yt).tickFormat(fmt).tickSizeInner(-2).tickSizeOuter(0).tickPadding(5.5));
  [ax, ay].forEach(a => {
    a.select(".domain").attr("stroke", "#444").attr("stroke-width", 1.2);
    a.selectAll(".tick line").attr("stroke", "#444");
    a.selectAll(".tick text").attr("fill", "#262626")
      .style("font-family", SANS).style("font-size", "13px");
  });

  // title
  g.append("text").attr("x", left + W / 2).attr("y", top - 6.5)
    .attr("text-anchor", "middle").attr("fill", "#111")
    .style("font-family", SANS).style("font-size", "15px")
    .text(titles[p.col]);

  // legend
  const names = legendNames[p.row];
  const lg = g.append("g");
  const box = lg.append("rect").attr("fill", "#fff").attr("stroke", "#262626").attr("stroke-width", 1);
  const labels = lg.selectAll("text").data(names).join("text")
    .attr("y", (d, i) => top + 2.5 + 8.5 + i * 16 + 4.2)
    .attr("fill", "#111")
    .style("font-family", SANS).style("font-size", "12px")
    .text(d => d);
  const tw = d3.max(labels.nodes(), n => n.getComputedTextLength());
  const bw = tw + 20.5;
  const bx = left + W - 3.3 - bw;
  box.attr("x", bx).attr("y", top + 2.5).attr("width", bw).attr("height", 32);
  labels.attr("x", bx + 16.5);
  lg.selectAll("circle").data(names).join("circle")
    .attr("cx", bx + 8).attr("cy", (d, i) => top + 2.5 + 8.5 + i * 16)
    .attr("r", 1.75).attr("fill", (d, i) => colors[i]);
});

// sub-captions
const capY = [222, 469, 709];
captions.forEach((c, i) => {
  const t = svg.append("text").attr("x", 261).attr("y", capY[i])
    .attr("text-anchor", "middle").attr("fill", "#111")
    .style("font-family", SERIF).style("font-size", "18.6px");
  t.append("tspan").text(c[0]);
  t.append("tspan").style("font-style", "italic").text(c[1]);
});

// figure caption, first line justified
const figLines = ["Figure 4: Visualization of the embeddings of several entity", "pairs from WN18RR dataset."];
figLines.forEach((line, i) => {
  const t = svg.append("text").attr("x", 13).attr("y", 755.5 + i * 22)
    .attr("fill", "#111")
    .style("font-family", SERIF).style("font-size", "21px")
    .text(line);
  if (i === 0) {
    const w = t.node().getComputedTextLength();
    const gaps = line.split(" ").length - 1;
    t.style("word-spacing", ((503 - w) / gaps) + "px");
  }
});
</script>
</body>
</html>
